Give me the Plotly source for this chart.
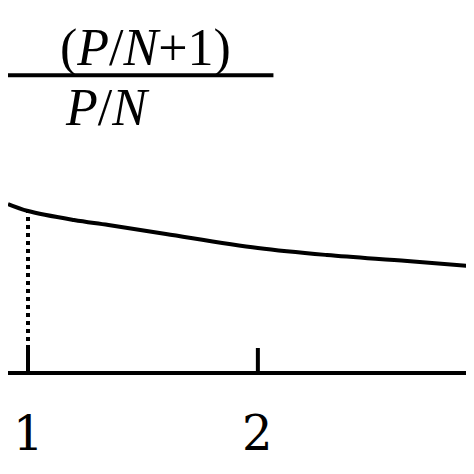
import plotly.graph_objects as go

# curve (x in P/N units, y in arbitrary units)
curve_x = [0.913, 1.0, 1.2, 1.35, 1.6, 2.0, 2.3, 2.65, 2.974]
curve_y = [1.69, 1.62, 1.53, 1.48, 1.39, 1.25, 1.18, 1.12, 1.06]
marker_x = 1.0
marker_y = 1.62
tick_vals = [1, 2, 3]
tick_text = ["1", "2", "3"]

fig = go.Figure()
fig.add_trace(go.Scatter(x=curve_x, y=curve_y, mode="lines", line=dict(color="black", width=4, shape="spline")))
fig.add_trace(go.Scatter(x=[marker_x, marker_x], y=[0, marker_y], mode="lines",
                         line=dict(color="black", width=4, dash="dot")))
# axis line and ticks
fig.add_trace(go.Scatter(x=[0.9, 3.0], y=[0, 0], mode="lines", line=dict(color="black", width=4)))
for t in tick_vals:
    fig.add_trace(go.Scatter(x=[t, t], y=[0, 0.25], mode="lines", line=dict(color="black", width=4)))
for t, s in zip(tick_vals, tick_text):
    fig.add_annotation(x=t, y=-0.6, text=s, showarrow=False,
                       font=dict(family="DejaVu Serif", size=48, color="black"))

serif = dict(family="Liberation Serif", size=52, color="black")
fig.add_annotation(xref="paper", yref="paper", x=0.29, y=0.915, text="(<i>P</i>/<i>N</i>+1)",
                   xanchor="center", yanchor="middle", showarrow=False, font=serif)
fig.add_annotation(xref="paper", yref="paper", x=0.21, y=0.79, text="<i>P</i>/<i>N</i>",
                   xanchor="center", yanchor="middle", showarrow=False, font=serif)
fig.add_shape(type="line", xref="paper", yref="paper", x0=0, x1=0.56, y0=0.858, y1=0.858,
              line=dict(color="black", width=4))

fig.update_layout(
    width=474, height=474, margin=dict(l=0, r=0, t=0, b=0),
    plot_bgcolor="white", paper_bgcolor="white", showlegend=False,
    xaxis=dict(range=[0.913, 2.975], visible=False),
    yaxis=dict(range=[-1.09, 3.65], visible=False),
)
fig.write_html("out.html")
